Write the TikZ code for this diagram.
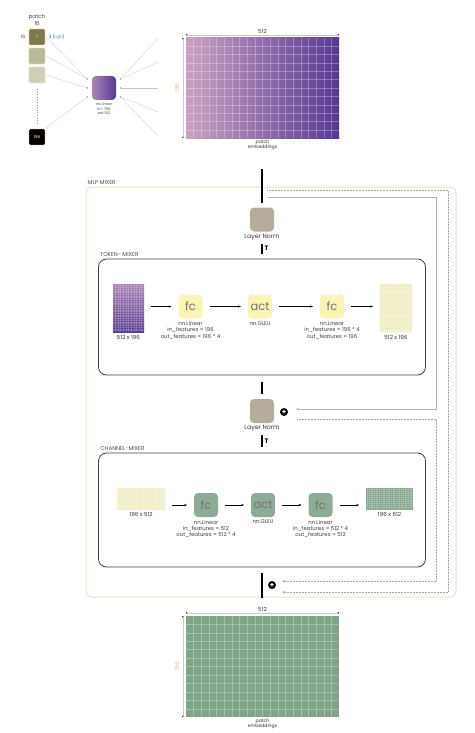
\documentclass[tikz,border=0pt]{standalone}
\usepackage{fontspec}
\setmainfont{Poppins}
\usetikzlibrary{positioning, arrows.meta, calc}

\definecolor{olivepatch}{HTML}{7D7B4B}
\definecolor{olivemid}{HTML}{B6BA97}
\definecolor{olivelight}{HTML}{CDD0B6}
\definecolor{mauve}{HTML}{C9A2C2}
\definecolor{deeppurple}{HTML}{573891}
\definecolor{taupe}{HTML}{B7AB9B}
\definecolor{fcyellow}{HTML}{FAF5B4}
\definecolor{gridyellow}{HTML}{EFEBB8}
\definecolor{fcgreen}{HTML}{8EAC95}
\definecolor{gridgreen}{HTML}{7FA488}
\definecolor{mixerorange}{HTML}{F5DDBD}
\definecolor{dimorange}{HTML}{F2B777}
\definecolor{rgbblue}{HTML}{3AA9D8}

\begin{document}
\begin{tikzpicture}[x=1pt, y=-1pt,
        >={Stealth[length=2.6pt, width=2.4pt]},
        % text styles
        lbl/.style={font=\fontsize{5.4}{6.4}\selectfont, text=black!75, align=center, inner sep=0.5pt},
        caption/.style={font=\fontsize{5.6}{6}\selectfont, text=black!80, align=center, inner sep=0.5pt},
        section/.style={font=\fontsize{5.6}{6}\selectfont, text=black!70, anchor=south west, inner sep=0pt},
        tee/.style={font=\bfseries\fontsize{6.5}{6.5}\selectfont, inner sep=0pt},
        % blocks
        patchsq/.style={rectangle, rounded corners=1.5pt, minimum size=17pt, inner sep=0pt,
                font=\fontsize{4}{5}\selectfont, text=white, draw=orange!12, line width=1.2pt},
        layer/.style={rectangle, rounded corners=4pt, minimum size=24pt, inner sep=0pt,
                font=\fontsize{11.5}{11.5}\selectfont, text=black!55},
        fcy/.style={layer, fill=fcyellow},
        fcg/.style={layer, fill=fcgreen},
        norm/.style={layer, fill=taupe},
        tensor/.style={rectangle, inner sep=0pt},
        mixerbox/.style={rectangle, draw=black!75, line width=0.8pt, rounded corners=8pt},
        plus/.style={circle, fill=black, text=white, inner sep=0pt, minimum size=8pt,
                font=\bfseries\fontsize{7}{7}\selectfont},
        dotn/.style={circle, fill=black!70, inner sep=0pt, minimum size=1.3pt},
        % lines
        mainline/.style={line width=1.2pt, black},
        arrow/.style={->, line width=0.7pt, black, shorten <=7pt, shorten >=7pt},
        skipline/.style={->, black!30, line width=0.5pt},
        skipdot/.style={->, black!35, densely dotted, line width=0.5pt},
        fanline/.style={black!22, line width=0.3pt},
        gridline/.style={white, line width=0.4pt},
        dimline/.style={black!22, line width=0.4pt,
                {Stealth[length=1.5pt, width=1.5pt, color=black]}-{Stealth[length=1.5pt, width=1.5pt, color=black]}},
    ]
    \useasboundingbox (0,0) rectangle (474,733);

    % === PATCHES ===
    \node[patchsq, fill=olivepatch] (p1) at (37,37) {1};
    \node[patchsq, fill=olivemid] (p2) at (37,56) {};
    \node[patchsq, fill=olivelight] (p3) at (37,75) {};
    \node[patchsq, fill=black] (p196) at (37,137) {196};
    \node[lbl, font=\fontsize{5.6}{7}\selectfont, above=2pt of p1] (patchlbl) {patch\\16};
    \node[lbl, font=\fontsize{4.5}{5}\selectfont, left=2pt of p1] (hlbl) {16};
    \node[lbl, font=\fontsize{4.5}{5}\selectfont, right=2pt of p1] (clbl) {3 (\textcolor{rgbblue}{rgb})};
    \draw[black!40, dotted, line width=0.6pt] ([yshift=-5pt]p3.south) -- ([yshift=4pt]p196.north);

    % === LINEAR PROJECTION ===
    \node[layer, left color=mauve!75!deeppurple, right color=deeppurple] (proj) at (104,88) {};
    \node[lbl, font=\fontsize{3.6}{4.4}\selectfont, below=2pt of proj] (projlbl) {nn.Linear\\in= 768\\out 512};
    \foreach \k/\dy in {1/-9, 2/0, 3/9} {
        \node[dotn] (dl\k) at ($(proj.west)+(-4.5,\dy)$) {};
        \node[dotn] (dr\k) at ($(proj.east)+(4.5,\dy)$) {};
    }
    \draw[fanline] (p1.east) -- (dl1);
    \draw[fanline] (p2.east) -- (dl1);
    \draw[fanline] (p3.east) -- (dl2);
    \draw[fanline] (p196.north east) -- (dl3);
    \foreach \k/\yy/\d in {1/38/1, 2/62/1, 3/88/2, 4/112/3, 5/136/3} {
        \coordinate (fan\k) at (158,\yy);
        \draw[fanline] (dr\d) -- (fan\k);
    }

    % === PATCH EMBEDDINGS (input) ===
    \node[tensor, minimum width=153pt, minimum height=100pt, left color=mauve, right color=deeppurple] (emb) at (262.5,88) {};
    \node[caption, font=\fontsize{4.6}{5.4}\selectfont, below=1pt of emb] (emblbl) {patch\\embeddings};

    % === MLP MIXER ===
    \node[rectangle, draw=mixerorange, line width=1pt, rounded corners=6pt,
        minimum width=370pt, minimum height=410pt] (mixer) at (271,392) {};
    \node[section] at ([xshift=2pt, yshift=1.5pt]mixer.north west) {MLP MIXER};

    \node[norm] (ln1) at (262,219.5) {};
    \node[caption, font=\fontsize{6.2}{7}\selectfont, below=1.5pt of ln1] (ln1lbl) {Layer Norm};

    % token mixing
    \node[mixerbox, minimum width=327pt, minimum height=116pt] (tok) at (262,317) {};
    \node[section] at ([xshift=2pt, yshift=1.5pt]tok.north west) {TOKEN- MIXER};
    \node[tensor, minimum width=31pt, minimum height=48pt, top color=mauve!70!deeppurple, bottom color=deeppurple] (tin) at (128.5,308) {};
    \node[caption, below=2pt of tin] {512 x 196};
    \node[fcy] (fc1) at (190.5,306.5) {fc};
    \node[lbl, below=2pt of fc1] {nn.Linear\\in\_features = 196\\out\_features = 196 * 4};
    \node[fcy] (act1) at (260,306.5) {act};
    \node[lbl, below=2pt of act1] {nn.GLEU};
    \node[fcy] (fc2) at (332,306.5) {fc};
    \node[lbl, below=2pt of fc2] {nn.Linear\\in\_features = 196 * 4\\out\_features = 196};
    \node[tensor, minimum width=32pt, minimum height=48pt, fill=gridyellow] (tout) at (396,308) {};
    \node[caption, below=2pt of tout] {512 x 196};

    \node[norm] (ln2) at (262,411) {};
    \node[caption, font=\fontsize{6.2}{7}\selectfont, below=1.5pt of ln2] (ln2lbl) {Layer Norm};
    \node[plus] (plus1) at (284,412) {+};

    % channel mixing
    \node[mixerbox, minimum width=327pt, minimum height=114pt] (chan) at (262,510) {};
    \node[section] at ([xshift=2pt, yshift=1.5pt]chan.north west) {CHANNEL-MIXER};
    \node[tensor, minimum width=48pt, minimum height=22pt, fill=gridyellow] (cin) at (141,498.5) {};
    \node[caption, below=2pt of cin] {196 x 512};
    \node[fcg] (fc3) at (206,505) {fc};
    \node[lbl, below=2pt of fc3] {nn.Linear\\in\_features = 512\\out\_features = 512 * 4};
    \node[fcg] (act2) at (263,505) {act};
    \node[lbl, below=2pt of act2] {nn.GLEU};
    \node[fcg] (fc4) at (320.5,505) {fc};
    \node[lbl, below=2pt of fc4] {nn.Linear\\in\_features = 512 * 4\\out\_features = 512};
    \node[tensor, minimum width=47pt, minimum height=22pt, fill=gridgreen] (cout) at (389.5,498.5) {};
    \node[caption, below=2pt of cout] {196 x 512};

    \node[plus] (plus2) at (272,585) {+};

    % === PATCH EMBEDDINGS (output) ===
    \node[tensor, minimum width=153pt, minimum height=101pt, fill=gridgreen] (embout) at (262.5,666.5) {};
    \node[caption, font=\fontsize{4.6}{5.4}\selectfont, below=1pt of embout] (emboutlbl) {patch\\embeddings};

    % grid lines on every tensor
    \foreach \g/\nc/\nr/\op in {emb/20/12/0.28, embout/20/12/0.28, tin/12/28/0.18,
            tout/12/28/0.3, cin/28/11/0.3, cout/28/11/0.18} {
        \pgfmathtruncatemacro\ncm{\nc-1}
        \pgfmathtruncatemacro\nrm{\nr-1}
        \foreach \i in {1,...,\ncm}
            \draw[gridline, opacity=\op] ($(\g.north west)!{\i/\nc}!(\g.north east)$) -- ($(\g.south west)!{\i/\nc}!(\g.south east)$);
        \foreach \j in {1,...,\nrm}
            \draw[gridline, opacity=\op] ($(\g.north west)!{\j/\nr}!(\g.south west)$) -- ($(\g.north east)!{\j/\nr}!(\g.south east)$);
    }

    % dimensions
    \foreach \g in {emb, embout} {
        \draw[dimline] ([yshift=3pt]\g.north west) -- ([yshift=3pt]\g.north east)
            node[midway, above=1pt, caption] {512};
        \draw[dimline] ([xshift=-3pt]\g.north west) -- ([xshift=-3pt]\g.south west);
        \node[caption, text=dimorange, rotate=90, anchor=south] at ([xshift=-6pt]\g.west) {196};
    }

    % === CONNECTIONS ===
    % main stream
    \coordinate (in1) at (262,169);
    \draw[mainline] (in1) -- ([yshift=4pt]ln1.north);
    \draw[mainline] ([yshift=-3pt]ln1lbl.south) -- ([yshift=5pt]tok.north)
        node[midway, right=2pt, tee] {T};
    \draw[mainline] ([yshift=-7pt]tok.south) -- ([yshift=5pt]ln2.north);
    \draw[mainline] ([yshift=-3pt]ln2lbl.south) -- ([yshift=6pt]chan.north)
        node[midway, right=2pt, tee] {T};
    \draw[mainline] ([yshift=-6pt]chan.south) -- (chan.south |- mixer.south);

    % inside the mixers
    \draw[arrow] (tin.east |- fc1) -- (fc1);
    \draw[arrow] (fc1) -- (act1);
    \draw[arrow] (act1) -- (fc2);
    \draw[arrow] (fc2) -- (tout.west |- fc2);
    \draw[arrow] (cin.east |- fc3) -- (fc3);
    \draw[arrow] (fc3) -- (act2);
    \draw[arrow] (act2) -- (fc4);
    \draw[arrow] (fc4) -- (cout.west |- fc4);

    % skip connections
    \coordinate (skip0) at (267,190);
    \coordinate (skip1) at (268,197);
    \coordinate (skip2) at (297,419);
    \coordinate (railout) at (448,190);
    \coordinate (railin) at (436,197);
    \draw[skipline, shorten >=8pt] (skip1) -- (railin) |- ([yshift=3pt]plus1.east);
    \draw[skipdot, shorten >=6pt] (skip2) -- (railin |- skip2) |- ([yshift=4pt]plus2.east);
    \draw[skipdot, shorten >=6pt] (skip0) -- (railout) |- ([yshift=-7pt]plus2.east);

\end{tikzpicture}
\end{document}
